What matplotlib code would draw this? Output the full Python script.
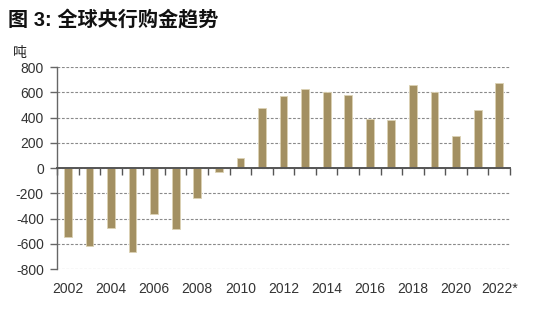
import matplotlib
matplotlib.use("Agg")
import matplotlib.pyplot as plt
import numpy as np

years = ["2002", "2003", "2004", "2005", "2006", "2007", "2008", "2009", "2010", "2011",
         "2012", "2013", "2014", "2015", "2016", "2017", "2018", "2019", "2020", "2021", "2022*"]
purchases = [-545, -618, -478, -663, -367, -484, -235, -34, 77, 478,
             568, 626, 600, 579, 391, 378, 658, 605, 256, 463, 674]
yticks = [-800, -600, -400, -200, 0, 200, 400, 600, 800]
title = "图 3: 全球央行购金趋势"
unit = "吨"

plt.rcParams['font.family'] = ['Liberation Sans', 'Noto Sans CJK SC', 'DejaVu Sans']

fig = plt.figure(figsize=(5.38, 3.09), dpi=100)
ax = fig.add_axes([0.106, 0.129, 0.842, 0.654])

x = np.arange(len(years))
ax.bar(x, purchases, width=0.36, color='#A39062', edgecolor='#DCD2B4', linewidth=0.6, zorder=3)

ax.set_xlim(-0.5, len(years) - 0.5)
ax.set_ylim(-800, 800)
ax.set_yticks(yticks)
ax.set_yticklabels([str(v) for v in yticks], fontsize=10, color='#333333')
ax.yaxis.grid(True, linestyle=(0, (2.5, 1.5)), color='#8a8a8a', linewidth=0.8, zorder=0)

for s in ['top', 'right']:
    ax.spines[s].set_visible(False)
ax.spines['left'].set_color('#666666')
ax.spines['left'].set_linewidth(1.0)
ax.spines['bottom'].set_position(('data', 0))
ax.spines['bottom'].set_color('#555555')
ax.spines['bottom'].set_linewidth(1.4)
ax.spines['bottom'].set_zorder(4)

ax.set_xticks(np.arange(len(years) + 1) - 0.5)
ax.set_xticklabels([])
ax.tick_params(axis='x', direction='out', length=5, width=1, color='#555555')
ax.tick_params(axis='y', direction='out', length=5, width=1, color='#666666', pad=4.5)

sec = ax.secondary_xaxis(0)
sec.set_xticks(x)
sec.set_xticklabels([y if i % 2 == 0 else "" for i, y in enumerate(years)], fontsize=10, color='#333333')
sec.tick_params(length=0, pad=9)
sec.spines['bottom'].set_visible(False)

fig.text(8 / 538, 1 - 20 / 309, title, fontsize=14.5, fontweight='bold', color='#111111',
         ha='left', va='center', family=['Liberation Sans', 'Noto Sans CJK SC'])
fig.text(13 / 538, 1 - 53 / 309, unit, fontsize=10, color='#222222', ha='left', va='center',
         family=['Noto Sans CJK SC'])

fig.savefig("out.png", dpi=100)
